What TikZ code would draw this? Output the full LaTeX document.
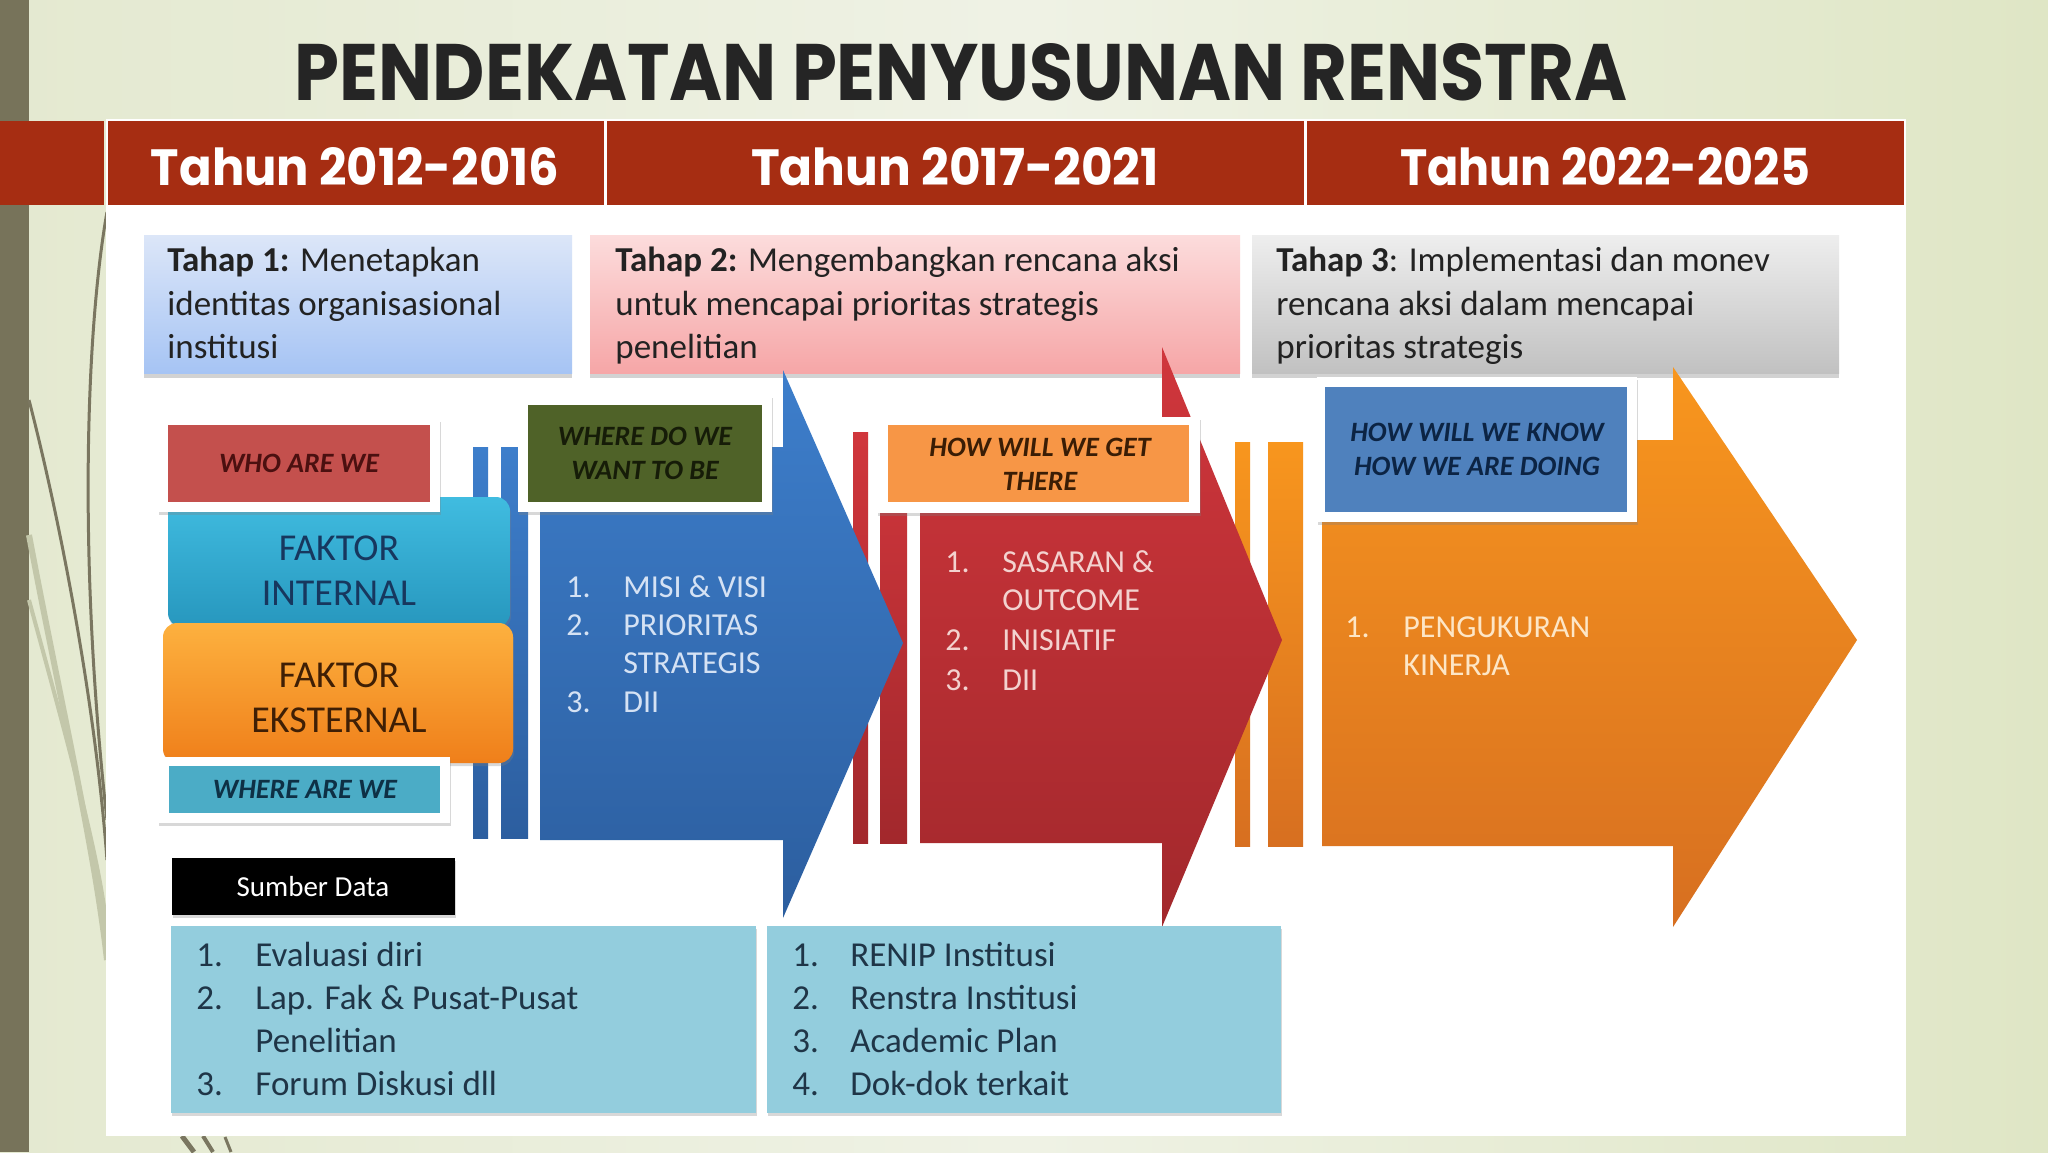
\documentclass[tikz,border=0pt]{standalone}
\usepackage{fontspec}
\usepackage{graphicx}
\setmainfont{Carlito}
\newfontfamily\gothic{Poppins}
\usetikzlibrary{shadows}
\definecolor{bgL}{HTML}{E4E9D0}
\definecolor{bgM}{HTML}{EFF2E5}
\definecolor{bgR}{HTML}{DFE6C5}
\definecolor{olivebar}{HTML}{77735A}
\definecolor{wispdark}{HTML}{7A7660}
\definecolor{wisplight}{HTML}{C3C7AA}
\definecolor{hdrred}{HTML}{A62D12}
\definecolor{titlecol}{HTML}{252525}
\definecolor{tAtop}{HTML}{DCE6F8}
\definecolor{tAbot}{HTML}{A6C4F4}
\definecolor{tBtop}{HTML}{FCDCDC}
\definecolor{tBbot}{HTML}{F6A6A7}
\definecolor{tCtop}{HTML}{EEEEEE}
\definecolor{tCbot}{HTML}{C1C1C1}
\definecolor{tahapcol}{HTML}{222222}
\definecolor{orTop}{HTML}{F8961E}
\definecolor{orBot}{HTML}{D76F20}
\definecolor{rdTop}{HTML}{D0363C}
\definecolor{rdBot}{HTML}{A2282C}
\definecolor{blTop}{HTML}{3D7ECB}
\definecolor{blBot}{HTML}{2C5E9F}
\definecolor{inTop}{HTML}{40BCE0}
\definecolor{inBot}{HTML}{2797BE}
\definecolor{exTop}{HTML}{FDB13F}
\definecolor{exBot}{HTML}{EF7F1A}
\definecolor{whofill}{HTML}{C4504D}
\definecolor{wherefill}{HTML}{4BACC6}
\definecolor{greenfill}{HTML}{4F6228}
\definecolor{orfill}{HTML}{F79646}
\definecolor{bluefill}{HTML}{4F81BD}
\definecolor{whotxt}{HTML}{4B1010}
\definecolor{greentxt}{HTML}{161C08}
\definecolor{orlbltxt}{HTML}{3A1D05}
\definecolor{bluelbltxt}{HTML}{0C2444}
\definecolor{wheretxt}{HTML}{0E3045}
\definecolor{intTxt}{HTML}{17375E}
\definecolor{exTxt}{HTML}{3F1F05}
\definecolor{blArrTxt}{HTML}{D5E2F4}
\definecolor{rdArrTxt}{HTML}{F3D2CF}
\definecolor{orArrTxt}{HTML}{FDE6C6}
\definecolor{listfill}{HTML}{93CDDD}
\definecolor{listcol}{HTML}{1F3547}
\begin{document}
\begin{tikzpicture}[x=0.5pt,y=-0.5pt,
  every node/.style={inner sep=0pt},
  tahaptxt/.style={anchor=base west, font=\fontsize{17.5}{22}\selectfont, text=tahapcol},
  hdrtxt/.style={anchor=base, text=white},
  lbl/.style={align=center, font=\fontsize{14}{17}\selectfont\bfseries\itshape},
  faktor/.style={align=center, font=\fontsize{19}{22.5}\selectfont},
  arrtxt/.style={anchor=base west, font=\fontsize{16}{19}\selectfont},
  listtxt/.style={anchor=base west, font=\fontsize{17.5}{21.5}\selectfont, text=listcol},
  lblframe/.style={fill=white, drop shadow={shadow xshift=0.5pt, shadow yshift=-1.5pt, opacity=0.3}},
  tahapbox/.style={drop shadow={shadow xshift=0pt, shadow yshift=-2.5pt, opacity=0.35}},
  softshadow/.style={drop shadow={shadow xshift=0.5pt, shadow yshift=-1.5pt, opacity=0.3}}
]
\useasboundingbox (0,0) rectangle (2048,1152);
% background
\shade[left color=bgL, right color=bgR, middle color=bgM] (0,0) rectangle (2048,1152);
\fill[olivebar] (0,0) rectangle (29,1152);
% wisp lines
\draw[wispdark, line width=1.5pt] (107,212) .. controls (86,330) and (78,560) .. (107,820);
\draw[wispdark, line width=1.5pt] (29,400) .. controls (60,520) and (95,700) .. (107,860);
\draw[wisplight, line width=3pt] (29,535) .. controls (60,700) and (95,850) .. (107,960);
\draw[wisplight, line width=2pt] (29,600) .. controls (70,750) and (100,860) .. (107,930);
\draw[wispdark, line width=2.5pt] (182,1136) -- (194,1152);
\draw[wispdark, line width=2pt] (203,1136) -- (213,1152);
\draw[wispdark, line width=1.5pt] (225,1137) -- (231,1152);
% white panel and header
\fill[white] (106,119) rectangle (1906,1136);
\fill[hdrred] (0,121) rectangle (104,205);
\fill[hdrred] (108,121) rectangle (604,205);
\fill[hdrred] (607,121) rectangle (1304,205);
\fill[hdrred] (1307,121) rectangle (1904,205);
\node[anchor=base, text=titlecol] (title) at (961,100) {\resizebox{666pt}{28.5pt}{\gothic\bfseries PENDEKATAN PENYUSUNAN RENSTRA}};
\node[hdrtxt] (h1) at (355,185) {\resizebox{204pt}{19pt}{\gothic\bfseries Tahun 2012-2016}};
\node[hdrtxt] (h2) at (955,185) {\resizebox{204pt}{19pt}{\gothic\bfseries Tahun 2017-2021}};
\node[hdrtxt] (h3) at (1605,185) {\resizebox{205pt}{19pt}{\gothic\bfseries Tahun 2022-2025}};
% tahap boxes
\shade[tahapbox, top color=tAtop, bottom color=tAbot] (144,235) rectangle (572,373);
\shade[tahapbox, top color=tBtop, bottom color=tBbot] (590,235) rectangle (1240,373);
\shade[tahapbox, top color=tCtop, bottom color=tCbot] (1252,235) rectangle (1839,373);
\node[tahaptxt] (t1a) at (167,271) {\textbf{Tahap 1:} Menetapkan};
\node[tahaptxt] (t1b) at (167,315) {identitas organisasional};
\node[tahaptxt] (t1c) at (167,358) {institusi};
\node[tahaptxt] (t2a) at (615,271) {\textbf{Tahap 2:} Mengembangkan rencana aksi};
\node[tahaptxt] (t2b) at (615,315) {untuk mencapai prioritas strategis};
\node[tahaptxt] (t2c) at (615,358) {penelitian};
\node[tahaptxt] (t3a) at (1276,271) {\textbf{Tahap 3}: Implementasi dan monev};
\node[tahaptxt] (t3b) at (1276,315) {rencana aksi dalam mencapai};
\node[tahaptxt] (t3c) at (1276,358) {prioritas strategis};
% orange arrow
\shade[top color=orTop, bottom color=orBot] (1322,440) -- (1673,440) -- (1673,367) -- (1857,640) -- (1673,927) -- (1673,846) -- (1322,846) -- cycle;
\shade[top color=orTop, bottom color=orBot] (1235,442) rectangle (1250,846);
\shade[top color=orTop, bottom color=orBot] (1268,442) rectangle (1303,846);
% red arrow
\shade[top color=rdTop, bottom color=rdBot] (920,432) -- (1162,432) -- (1162,347) -- (1282,640) -- (1162,927) -- (1162,843) -- (920,843) -- cycle;
\shade[top color=rdTop, bottom color=rdBot] (853,432) rectangle (868,843);
\shade[top color=rdTop, bottom color=rdBot] (880,432) rectangle (907,843);
% blue arrow
\shade[top color=blTop, bottom color=blBot] (540,447) -- (783,447) -- (783,370) -- (903,643) -- (783,918) -- (783,840) -- (540,840) -- cycle;
\shade[top color=blTop, bottom color=blBot] (473,447) rectangle (488,838);
\shade[top color=blTop, bottom color=blBot] (501,447) rectangle (528,838);
% faktor boxes
\shade[softshadow, rounded corners=7pt, top color=inTop, bottom color=inBot] (168,497) rectangle (510,627);
\shade[softshadow, rounded corners=7pt, top color=exTop, bottom color=exBot] (163,623) rectangle (513,763);
\node[faktor, text=intTxt] (fint) at (339,571) {FAKTOR\\INTERNAL};
\node[faktor, text=exTxt] (fext) at (339,698) {FAKTOR\\EKSTERNAL};
% label boxes
\fill[lblframe] (158,419) rectangle (440,512);
\fill[whofill] (168,425) rectangle (430,502);
\fill[lblframe] (158,757) rectangle (450,823);
\fill[wherefill] (169,766) rectangle (440,813);
\fill[lblframe] (518,395) rectangle (772,512);
\fill[greenfill] (528,405) rectangle (762,502);
\fill[lblframe] (877,417) rectangle (1200,513);
\fill[orfill] (888,425) rectangle (1189,502);
\fill[lblframe] (1317,377) rectangle (1637,522);
\fill[bluefill] (1325,387) rectangle (1627,512);
\node[lbl, text=whotxt] (who) at (299,463) {WHO ARE WE};
\node[lbl, text=wheretxt] (where) at (305,789) {WHERE ARE WE};
\node[lbl, text=greentxt] (want) at (645,453) {WHERE DO WE\\WANT TO BE};
\node[lbl, text=orlbltxt] (get) at (1040,464) {HOW WILL WE GET\\THERE};
\node[lbl, text=bluelbltxt] (know) at (1477,449) {HOW WILL WE KNOW\\HOW WE ARE DOING};
% arrow texts
\node[arrtxt, text=blArrTxt] (b1n) at (566,597) {1.};
\node[arrtxt, text=blArrTxt] (b1t) at (623,597) {MISI \& VISI};
\node[arrtxt, text=blArrTxt] (b2n) at (566,635) {2.};
\node[arrtxt, text=blArrTxt] (b2t) at (623,635) {PRIORITAS};
\node[arrtxt, text=blArrTxt] (b2u) at (623,673) {STRATEGIS};
\node[arrtxt, text=blArrTxt] (b3n) at (566,712) {3.};
\node[arrtxt, text=blArrTxt] (b3t) at (623,712) {DII};
\node[arrtxt, text=rdArrTxt] (r1n) at (945,572) {1.};
\node[arrtxt, text=rdArrTxt] (r1t) at (1002,572) {SASARAN \&};
\node[arrtxt, text=rdArrTxt] (r1u) at (1002,610) {OUTCOME};
\node[arrtxt, text=rdArrTxt] (r2n) at (945,650) {2.};
\node[arrtxt, text=rdArrTxt] (r2t) at (1002,650) {INISIATIF};
\node[arrtxt, text=rdArrTxt] (r3n) at (945,690) {3.};
\node[arrtxt, text=rdArrTxt] (r3t) at (1002,690) {DII};
\node[arrtxt, text=orArrTxt] (o1n) at (1345,637) {1.};
\node[arrtxt, text=orArrTxt] (o1t) at (1403,637) {PENGUKURAN};
\node[arrtxt, text=orArrTxt] (o1u) at (1403,675) {KINERJA};
% sumber data and lists
\fill[black, softshadow] (172,858) rectangle (455,915);
\node[text=white, font=\fontsize{14.5}{17}\selectfont] (sumber) at (313,887) {Sumber Data};
\fill[listfill, softshadow] (171,926) rectangle (756,1113);
\fill[listfill, softshadow] (767,926) rectangle (1281,1113);
\node[listtxt] (l1n) at (196,966) {1.};
\node[listtxt] (l1t) at (255,966) {Evaluasi diri};
\node[listtxt] (l2n) at (196,1009) {2.};
\node[listtxt] (l2t) at (255,1009) {Lap. Fak \& Pusat-Pusat};
\node[listtxt] (l2u) at (255,1052) {Penelitian};
\node[listtxt] (l3n) at (196,1095) {3.};
\node[listtxt] (l3t) at (255,1095) {Forum Diskusi dll};
\node[listtxt] (m1n) at (792,966) {1.};
\node[listtxt] (m1t) at (850,966) {RENIP Institusi};
\node[listtxt] (m2n) at (792,1009) {2.};
\node[listtxt] (m2t) at (850,1009) {Renstra Institusi};
\node[listtxt] (m3n) at (792,1052) {3.};
\node[listtxt] (m3t) at (850,1052) {Academic Plan};
\node[listtxt] (m4n) at (792,1095) {4.};
\node[listtxt] (m4t) at (850,1095) {Dok-dok terkait};
\end{tikzpicture}
\end{document}
